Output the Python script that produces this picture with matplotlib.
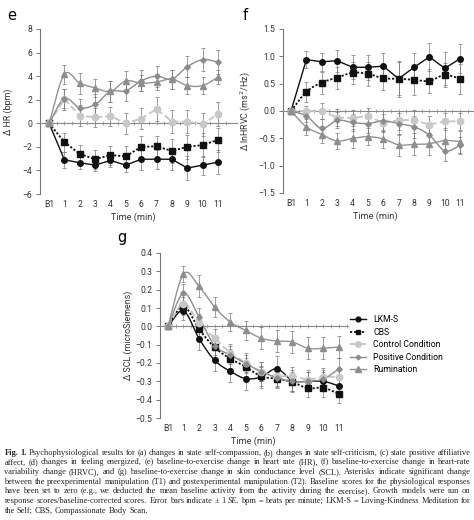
import numpy as np
import matplotlib
matplotlib.use("Agg")
import matplotlib.pyplot as plt
from matplotlib.lines import Line2D

plt.rcParams['font.family'] = ['Liberation Sans Narrow', 'Roboto', 'DejaVu Sans']
plt.rcParams['axes.unicode_minus'] = True

# ---------------- data ----------------
time_labels = ["B1", "1", "2", "3", "4", "5", "6", "7", "8", "9", "10", "11"]
series_names = ["LKM-S", "CBS", "Control Condition", "Positive Condition", "Rumination"]

# Panel e: delta HR (bpm)
hr_lkm = [0, -3.1, -3.35, -3.55, -3.15, -3.55, -3.05, -3.05, -3.05, -3.8, -3.55, -3.3]
hr_cbs = [0, -1.6, -2.6, -3.05, -2.7, -2.8, -2.0, -1.95, -2.35, -2.0, -1.85, -1.4]
hr_ctrl = [0, 2.05, 0.65, 0.5, 0.6, 0.0, 0.4, 1.2, 0.15, 0.15, -0.1, 0.8]
hr_pos = [0, 2.1, 1.3, 1.6, 2.7, 2.75, 3.6, 4.0, 3.75, 4.8, 5.4, 5.2]
hr_rum = [0, 4.15, 3.4, 3.0, 2.7, 3.6, 3.4, 3.5, 3.75, 3.2, 3.2, 3.9]
hr_lkm_se = [0, .7, .5, .5, .6, .6, .9, .8, .9, 1.0, .8, 1.0]
hr_cbs_se = [0, .8, .8, .8, .8, .9, .9, .9, 1.0, 1.0, 1.0, 1.0]
hr_ctrl_se = [0, .9, .9, .8, .8, .9, .9, 1.0, 1.0, 1.0, 1.0, 1.0]
hr_pos_se = [0, .8, .8, .9, .9, .9, .9, .9, .8, .9, 1.0, 1.0]
hr_rum_se = [0, .8, .9, .8, .9, .8, .7, .7, .8, .7, .7, .6]

# Panel f: delta lnHRVC
hrv_lkm = [0, 0.94, 0.9, 0.92, 0.8, 0.8, 0.82, 0.59, 0.8, 0.99, 0.78, 0.96]
hrv_cbs = [0, 0.35, 0.52, 0.61, 0.7, 0.68, 0.6, 0.59, 0.57, 0.55, 0.66, 0.59]
hrv_ctrl = [0, 0.0, 0.0, -0.12, -0.13, -0.09, -0.22, -0.17, -0.16, -0.25, -0.19, -0.19]
hrv_pos = [0, -0.09, -0.32, -0.17, -0.21, -0.23, -0.18, -0.23, -0.29, -0.44, -0.73, -0.63]
hrv_rum = [0, -0.29, -0.43, -0.55, -0.5, -0.47, -0.51, -0.62, -0.61, -0.6, -0.54, -0.56]
hrv_lkm_se = [0, .16, .17, .2, .22, .23, .25, .33, .27, .25, .3, .27]
hrv_cbs_se = [0, .18, .2, .2, .2, .22, .22, .3, .28, .22, .22, .27]
hrv_ctrl_se = [0, .1, .15, .15, .15, .15, .17, .17, .17, .15, .15, .15]
hrv_pos_se = [0, .12, .18, .15, .16, .17, .18, .2, .2, .2, .18, .15]
hrv_rum_se = [0, .15, .15, .15, .17, .16, .17, .2, .2, .2, .22, .2]

# Panel g: delta SCL (microSiemens)
scl_lkm = [0, 0.085, -0.067, -0.185, -0.245, -0.285, -0.276, -0.231, -0.296, -0.3, -0.3, -0.325]
scl_cbs = [0, 0.11, -0.015, -0.115, -0.176, -0.22, -0.273, -0.285, -0.304, -0.338, -0.335, -0.37]
scl_ctrl = [0, 0.122, 0.02, -0.065, -0.144, -0.198, -0.247, -0.273, -0.27, -0.29, -0.276, -0.276]
scl_pos = [0, 0.18, 0.05, -0.105, -0.155, -0.204, -0.247, -0.28, -0.3, -0.3, -0.287, -0.232]
scl_rum = [0, 0.285, 0.218, 0.105, 0.024, -0.022, -0.065, -0.08, -0.085, -0.12, -0.12, -0.113]
scl_lkm_se = [0, .05, .06, .06, .06, .06, .06, .07, .06, .05, .05, .05]
scl_cbs_se = [0, .05, .05, .05, .05, .05, .05, .05, .05, .05, .05, .05]
scl_ctrl_se = [0, .05, .05, .05, .05, .05, .05, .05, .05, .05, .05, .05]
scl_pos_se = [0, .05, .05, .05, .05, .05, .05, .05, .05, .05, .05, .06]
scl_rum_se = [0, .045, .06, .055, .05, .05, .06, .06, .06, .06, .06, .06]

caption_lines = [
    "Fig. 1. Psychophysiological results for (a) changes in state self-compassion, (b) changes in state self-criticism, (c) state positive affiliative",
    "affect, (d) changes in feeling energized, (e) baseline-to-exercise change in heart rate (HR), (f) baseline-to-exercise change in heart-rate",
    "variability change (HRVC), and (g) baseline-to-exercise change in skin conductance level (SCL). Asterisks indicate significant change",
    "between the preexperimental manipulation (T1) and postexperimental manipulation (T2). Baseline scores for the physiological responses",
    "have been set to zero (e.g., we deducted the mean baseline activity from the activity during the exercise). Growth models were run on",
    "response scores/baseline-corrected scores. Error bars indicate \u00b1 1 SE. bpm = beats per minute; LKM-S = Loving-Kindness Meditation for",
    "the Self; CBS, Compassionate Body Scan.",
]

# ---------------- styles ----------------
styles = {
    "LKM-S": dict(color="#111111", ls="-", lw=1.0, marker="o", ms=4.0, mfc="#111111", mec="#111111"),
    "CBS": dict(color="#111111", ls=(0, (1.2, 1.0)), lw=1.3, marker="s", ms=4.2, mfc="#111111", mec="#111111"),
    "Control Condition": dict(color="#c4c4c4", ls=(0, (3.5, 1.8)), lw=1.3, marker="o", ms=4.6, mfc="#c8c8c8", mec="#c8c8c8"),
    "Positive Condition": dict(color="#8c8c8c", ls="-", lw=1.0, marker="D", ms=2.8, mfc="#8c8c8c", mec="#8c8c8c"),
    "Rumination": dict(color="#939393", ls="-", lw=1.0, marker="^", ms=5.0, mfc="#8e8e8e", mec="#8e8e8e"),
}


def catmull(x, y, n=16):
    x = np.asarray(x, float)
    y = np.asarray(y, float)
    P = np.column_stack([x, y])
    P = np.vstack([2 * P[0] - P[1], P, 2 * P[-1] - P[-2]])
    out = []
    t = np.linspace(0, 1, n, endpoint=False)[:, None]
    for i in range(1, len(P) - 2):
        p0, p1, p2, p3 = P[i - 1], P[i], P[i + 1], P[i + 2]
        seg = 0.5 * ((2 * p1) + (-p0 + p2) * t + (2 * p0 - 5 * p1 + 4 * p2 - p3) * t ** 2
                     + (-p0 + 3 * p1 - 3 * p2 + p3) * t ** 3)
        out.append(seg)
    out.append(P[-2][None, :])
    out = np.vstack(out)
    return out[:, 0], out[:, 1]


W, H = 474, 520
fig = plt.figure(figsize=(W / 100, H / 100), dpi=100)


def make_axes(l, r, t, b):
    return fig.add_axes([l / W, 1 - b / H, (r - l) / W, (b - t) / H])


def style_axes(ax, ylim, yticks, yfmt, xlim, ylabel, ylab_x):
    ax.set_xlim(*xlim)
    ax.set_ylim(*ylim)
    for s in ["top", "right"]:
        ax.spines[s].set_visible(False)
    ax.spines["left"].set_color("#777777")
    ax.spines["left"].set_linewidth(0.8)
    ax.spines["bottom"].set_position(("data", 0))
    ax.spines["bottom"].set_color("#888888")
    ax.spines["bottom"].set_linewidth(0.8)
    ax.set_yticks(yticks)
    ax.set_yticklabels([yfmt(v).replace("-", "\u2212") for v in yticks])
    ax.tick_params(axis="y", direction="out", length=3, width=0.7, color="#777777",
                   labelsize=6.2, labelcolor="#333333", pad=2.5)
    ax.set_xticks(np.arange(0, 11.6, 0.5))
    ax.tick_params(axis="x", direction="inout", length=2.5, width=0.5, color="#888888",
                   labelbottom=False)
    for i, lab in enumerate(time_labels):
        ax.annotate(lab, xy=(i, 0), xycoords=("data", "axes fraction"),
                    xytext=(0, -4.5), textcoords="offset points", ha="center", va="top",
                    fontsize=6.2, color="#333333")
    ax.annotate("Time (min)", xy=(5.5, 0), xycoords=("data", "axes fraction"),
                xytext=(0, -13), textcoords="offset points", ha="center", va="top",
                fontsize=6.6, color="#333333")
    ax.set_ylabel(ylabel, fontsize=6.4, color="#333333")
    ax.yaxis.set_label_coords(ylab_x, 0.5)


def draw_series(ax, data, errs, smooth_flags):
    x = np.arange(len(time_labels))
    for name, y, e, sm in zip(series_names, data, errs, smooth_flags):
        st = styles[name]
        ax.errorbar(x, y, yerr=e, fmt="none", ecolor="#777777", elinewidth=0.5,
                    capsize=1.2, capthick=0.5, zorder=2)
        if sm:
            xs, ys = catmull(x, y)
        else:
            xs, ys = x, np.asarray(y)
        ax.plot(xs, ys, color=st["color"], ls=st["ls"], lw=st["lw"], zorder=3)
        ax.plot(x, y, ls="none", marker=st["marker"], ms=st["ms"], mfc=st["mfc"],
                mec=st["mec"], zorder=4)


# Panel e
ax_e = make_axes(40, 237, 29, 194)
style_axes(ax_e, (-6, 8), [-6, -4, -2, 0, 2, 4, 6, 8], lambda v: "%d" % v,
           (-0.59, 12.24), "\u0394 HR (bpm)", -0.135)
draw_series(ax_e, [hr_lkm, hr_cbs, hr_ctrl, hr_pos, hr_rum],
            [hr_lkm_se, hr_cbs_se, hr_ctrl_se, hr_pos_se, hr_rum_se],
            [False, False, False, True, True])

# Panel f
ax_f = make_axes(283, 474, 29, 193)
style_axes(ax_f, (-1.5, 1.5), [-1.5, -1.0, -0.5, 0.0, 0.5, 1.0, 1.5], lambda v: "%.1f" % v,
           (-0.52, 11.9), "\u0394 lnHRVC (ms$^2$/Hz)", -0.16)
draw_series(ax_f, [hrv_lkm, hrv_cbs, hrv_ctrl, hrv_pos, hrv_rum],
            [hrv_lkm_se, hrv_cbs_se, hrv_ctrl_se, hrv_pos_se, hrv_rum_se],
            [False, True, False, True, True])

# Panel g
ax_g = make_axes(160, 348, 253, 418)
style_axes(ax_g, (-0.5, 0.4), [-0.5, -0.4, -0.3, -0.2, -0.1, 0.0, 0.1, 0.2, 0.3, 0.4],
           lambda v: "%.1f" % v, (-0.51, 11.58), "\u0394 SCL (microSiemens)", -0.145)
draw_series(ax_g, [scl_lkm, scl_cbs, scl_ctrl, scl_pos, scl_rum],
            [scl_lkm_se, scl_cbs_se, scl_ctrl_se, scl_pos_se, scl_rum_se],
            [True, True, True, True, True])

handles = []
for name in series_names:
    st = styles[name]
    handles.append(Line2D([], [], color=st["color"], ls=st["ls"], lw=st["lw"], marker=st["marker"],
                          ms=st["ms"] * 0.85, mfc=st["mfc"], mec=st["mec"]))
fig.legend(handles, series_names, loc="upper left", bbox_to_anchor=(350 / W, 1 - 315 / H),
           frameon=False, fontsize=6.2, handlelength=1.9, handletextpad=0.8,
           labelspacing=0.42, borderaxespad=0, borderpad=0)

# Panel letters
fig.text(7 / W, 1 - 16 / H, "e", fontsize=10.5, family="DejaVu Sans", va="center", ha="left")
fig.text(243 / W, 1 - 16 / H, "f", fontsize=10.5, family="DejaVu Sans", va="center", ha="left")
fig.text(117 / W, 1 - 238 / H, "g", fontsize=10.5, family="DejaVu Sans", va="center", ha="left")

# Caption with justification
renderer = fig.canvas.get_renderer()
cap_left, cap_right = 4.5, 470.5
cap_y0 = 452.7
cap_dy = 9.65
base_size = 5.25
probe = fig.text(0, 0, caption_lines[0], family="Liberation Serif", fontsize=base_size)
natural = probe.get_window_extent(renderer).width
probe.remove()
cap_size = base_size * (cap_right - cap_left) / (natural * 1.01)
cap_font = dict(family="Liberation Serif", fontsize=cap_size, color="#222222")
for li, line in enumerate(caption_lines):
    words = line.split(" ")
    texts = []
    for wi, w in enumerate(words):
        kw = dict(cap_font)
        if li == 0 and wi < 2:
            kw["fontweight"] = "bold"
        if w == "SE.":
            kw["fontstyle"] = "italic"
        t = fig.text(0, 1 - (cap_y0 + li * cap_dy) / H, w, va="center", ha="left", **kw)
        texts.append(t)
    widths = [t.get_window_extent(renderer).width for t in texts]
    total = sum(widths)
    if li < len(caption_lines) - 1 and len(words) > 1:
        gap = (cap_right - cap_left - total) / (len(words) - 1)
    else:
        gap = cap_size * 100 / 72 * 0.25
    x = cap_left
    for t, wdt in zip(texts, widths):
        t.set_x(x / W)
        x += wdt + gap

fig.savefig("out.png", dpi=100)
